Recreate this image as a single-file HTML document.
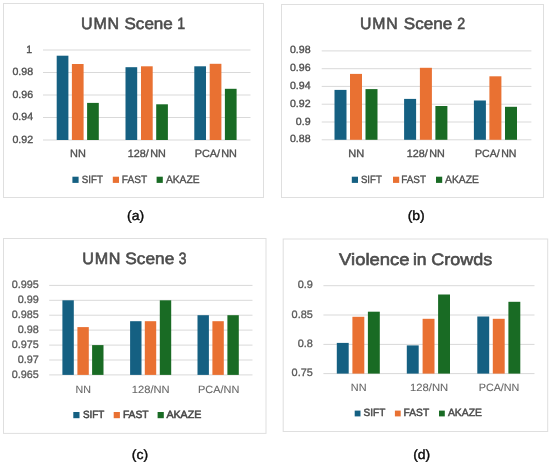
<!DOCTYPE html>
<html><head><meta charset="utf-8"><title>Charts</title>
<style>
html,body{margin:0;padding:0;background:#fff;}
svg{display:block;font-family:"Liberation Sans",sans-serif;text-rendering:geometricPrecision;}
</style></head>
<body>
<svg width="550" height="464" viewBox="0 0 550 464">
<rect width="550" height="464" fill="#fff"/>
<rect x="3.50" y="3.50" width="260.00" height="194.00" fill="#fff" stroke="#DFDFDF" stroke-width="1"/>
<rect x="43.00" y="49.50" width="207.50" height="1.00" fill="#D9D9D9"/>
<rect x="43.00" y="72.00" width="207.50" height="1.00" fill="#D9D9D9"/>
<rect x="43.00" y="94.50" width="207.50" height="1.00" fill="#D9D9D9"/>
<rect x="43.00" y="117.00" width="207.50" height="1.00" fill="#D9D9D9"/>
<rect x="43.00" y="139.50" width="207.50" height="1.00" fill="#D9D9D9"/>
<rect x="56.70" y="55.70" width="11.70" height="84.30" fill="#156082"/>
<rect x="71.90" y="64.00" width="11.70" height="76.00" fill="#E97132"/>
<rect x="87.10" y="102.90" width="11.70" height="37.10" fill="#196B24"/>
<rect x="125.50" y="67.20" width="11.70" height="72.80" fill="#156082"/>
<rect x="141.00" y="66.30" width="11.70" height="73.70" fill="#E97132"/>
<rect x="156.20" y="104.30" width="11.70" height="35.70" fill="#196B24"/>
<rect x="194.30" y="66.30" width="11.70" height="73.70" fill="#156082"/>
<rect x="209.70" y="63.80" width="11.70" height="76.20" fill="#E97132"/>
<rect x="224.90" y="88.80" width="11.70" height="51.20" fill="#196B24"/>
<rect x="72.40" y="176.70" width="6.20" height="6.20" fill="#156082"/>
<rect x="112.80" y="176.70" width="6.20" height="6.20" fill="#E97132"/>
<rect x="156.60" y="176.70" width="6.20" height="6.20" fill="#196B24"/>
<rect x="281.50" y="4.50" width="262.00" height="193.00" fill="#fff" stroke="#DFDFDF" stroke-width="1"/>
<rect x="321.70" y="50.40" width="209.70" height="1.00" fill="#D9D9D9"/>
<rect x="321.70" y="68.20" width="209.70" height="1.00" fill="#D9D9D9"/>
<rect x="321.70" y="85.90" width="209.70" height="1.00" fill="#D9D9D9"/>
<rect x="321.70" y="103.70" width="209.70" height="1.00" fill="#D9D9D9"/>
<rect x="321.70" y="121.50" width="209.70" height="1.00" fill="#D9D9D9"/>
<rect x="321.70" y="139.30" width="209.70" height="1.00" fill="#D9D9D9"/>
<rect x="334.50" y="89.90" width="12.00" height="49.90" fill="#156082"/>
<rect x="350.00" y="73.90" width="12.00" height="65.90" fill="#E97132"/>
<rect x="365.50" y="89.10" width="12.00" height="50.70" fill="#196B24"/>
<rect x="404.10" y="98.90" width="12.00" height="40.90" fill="#156082"/>
<rect x="419.90" y="67.80" width="12.00" height="72.00" fill="#E97132"/>
<rect x="435.40" y="106.00" width="12.00" height="33.80" fill="#196B24"/>
<rect x="473.90" y="100.50" width="12.00" height="39.30" fill="#156082"/>
<rect x="489.40" y="76.30" width="12.00" height="63.50" fill="#E97132"/>
<rect x="505.00" y="106.80" width="12.00" height="33.00" fill="#196B24"/>
<rect x="351.80" y="176.70" width="6.20" height="6.20" fill="#156082"/>
<rect x="393.00" y="176.70" width="6.20" height="6.20" fill="#E97132"/>
<rect x="436.00" y="176.70" width="6.20" height="6.20" fill="#196B24"/>
<rect x="3.50" y="238.50" width="262.50" height="194.90" fill="#fff" stroke="#DFDFDF" stroke-width="1"/>
<rect x="49.20" y="284.90" width="203.30" height="1.00" fill="#D9D9D9"/>
<rect x="49.20" y="299.80" width="203.30" height="1.00" fill="#D9D9D9"/>
<rect x="49.20" y="314.70" width="203.30" height="1.00" fill="#D9D9D9"/>
<rect x="49.20" y="329.60" width="203.30" height="1.00" fill="#D9D9D9"/>
<rect x="49.20" y="344.60" width="203.30" height="1.00" fill="#D9D9D9"/>
<rect x="49.20" y="359.50" width="203.30" height="1.00" fill="#D9D9D9"/>
<rect x="49.20" y="374.40" width="203.30" height="1.00" fill="#D9D9D9"/>
<rect x="62.40" y="300.30" width="11.40" height="74.60" fill="#156082"/>
<rect x="77.40" y="327.10" width="11.40" height="47.80" fill="#E97132"/>
<rect x="92.10" y="345.10" width="11.40" height="29.80" fill="#196B24"/>
<rect x="130.10" y="321.20" width="11.40" height="53.70" fill="#156082"/>
<rect x="144.80" y="321.20" width="11.40" height="53.70" fill="#E97132"/>
<rect x="159.80" y="300.30" width="11.40" height="74.60" fill="#196B24"/>
<rect x="197.50" y="315.20" width="11.40" height="59.70" fill="#156082"/>
<rect x="212.40" y="321.20" width="11.40" height="53.70" fill="#E97132"/>
<rect x="227.40" y="315.20" width="11.40" height="59.70" fill="#196B24"/>
<rect x="73.30" y="412.00" width="6.20" height="6.20" fill="#156082"/>
<rect x="113.70" y="412.00" width="6.20" height="6.20" fill="#E97132"/>
<rect x="157.60" y="412.00" width="6.20" height="6.20" fill="#196B24"/>
<rect x="283.20" y="239.00" width="264.50" height="192.50" fill="#fff" stroke="#DFDFDF" stroke-width="1"/>
<rect x="323.40" y="285.20" width="211.10" height="1.00" fill="#D9D9D9"/>
<rect x="323.40" y="314.50" width="211.10" height="1.00" fill="#D9D9D9"/>
<rect x="323.40" y="343.90" width="211.10" height="1.00" fill="#D9D9D9"/>
<rect x="323.40" y="373.10" width="211.10" height="1.00" fill="#D9D9D9"/>
<rect x="336.80" y="342.90" width="11.90" height="30.70" fill="#156082"/>
<rect x="352.40" y="316.80" width="11.90" height="56.80" fill="#E97132"/>
<rect x="367.90" y="311.70" width="11.90" height="61.90" fill="#196B24"/>
<rect x="406.80" y="345.40" width="11.90" height="28.20" fill="#156082"/>
<rect x="422.60" y="318.80" width="11.90" height="54.80" fill="#E97132"/>
<rect x="438.10" y="294.50" width="11.90" height="79.10" fill="#196B24"/>
<rect x="477.30" y="316.50" width="11.90" height="57.10" fill="#156082"/>
<rect x="492.80" y="318.80" width="11.90" height="54.80" fill="#E97132"/>
<rect x="508.40" y="301.80" width="11.90" height="71.80" fill="#196B24"/>
<rect x="354.70" y="410.60" width="5.80" height="5.80" fill="#156082"/>
<rect x="394.90" y="410.60" width="5.80" height="5.80" fill="#E97132"/>
<rect x="439.00" y="410.60" width="5.80" height="5.80" fill="#196B24"/>
<text transform="translate(81.11 29.10) scale(0.9871 1)" font-size="16.2" letter-spacing="0.8" fill="#4c4c4c" stroke="#4c4c4c" stroke-width="0.6">UMN</text>
<text transform="translate(124.50 29.10) scale(1.0524 1)" font-size="16.2" fill="#4c4c4c" stroke="#4c4c4c" stroke-width="0.6">Scene</text>
<text transform="translate(177.32 29.10) scale(0.8750 1)" font-size="16.2" fill="#4c4c4c" stroke="#4c4c4c" stroke-width="0.6">1</text>
<text transform="translate(26.30 52.90) scale(1.0000 1)" font-size="10.5" fill="#4f4f4f" stroke="#4f4f4f" stroke-width="0.35">1</text>
<text transform="translate(12.40 75.40) scale(1.0100 1)" font-size="10.5" fill="#4f4f4f" stroke="#4f4f4f" stroke-width="0.35">0.98</text>
<text transform="translate(12.40 97.90) scale(1.0100 1)" font-size="10.5" fill="#4f4f4f" stroke="#4f4f4f" stroke-width="0.35">0.96</text>
<text transform="translate(12.40 120.40) scale(1.0100 1)" font-size="10.5" fill="#4f4f4f" stroke="#4f4f4f" stroke-width="0.35">0.94</text>
<text transform="translate(12.40 142.90) scale(1.0100 1)" font-size="10.5" fill="#4f4f4f" stroke="#4f4f4f" stroke-width="0.35">0.92</text>
<text transform="translate(70.00 156.90) scale(1.0423 1)" font-size="10.5" fill="#4f4f4f" stroke="#4f4f4f" stroke-width="0.35">NN</text>
<text transform="translate(127.70 156.90) scale(1.0269 1)" font-size="10.5" fill="#4f4f4f" stroke="#4f4f4f" stroke-width="0.35">128/<tspan dx="1.5">NN</tspan></text>
<text transform="translate(194.80 156.90) scale(1.0327 1)" font-size="10.5" fill="#4f4f4f" stroke="#4f4f4f" stroke-width="0.35">PCA/<tspan dx="1.0">NN</tspan></text>
<text transform="translate(81.70 182.60) scale(0.9300 1)" font-size="10.5" fill="#4f4f4f" stroke="#4f4f4f" stroke-width="0.35">SIFT</text>
<text transform="translate(121.80 182.60) scale(0.9649 1)" font-size="10.5" fill="#4f4f4f" stroke="#4f4f4f" stroke-width="0.35">FAST</text>
<text transform="translate(165.90 182.60) scale(0.9790 1)" font-size="10.5" fill="#4f4f4f" stroke="#4f4f4f" stroke-width="0.35">AKAZE</text>
<text transform="translate(127.08 220.00) scale(1.0500 1)" font-size="13.33" fill="#0a0a0a" stroke="#0a0a0a" stroke-width="0.4">(a)</text>
<text transform="translate(360.02 29.30) scale(0.9762 1)" font-size="16.2" letter-spacing="0.8" fill="#4c4c4c" stroke="#4c4c4c" stroke-width="0.6">UMN</text>
<text transform="translate(403.80 29.30) scale(1.0546 1)" font-size="16.2" fill="#4c4c4c" stroke="#4c4c4c" stroke-width="0.6">Scene</text>
<text transform="translate(457.30 29.30) scale(0.8778 1)" font-size="16.2" fill="#4c4c4c" stroke="#4c4c4c" stroke-width="0.6">2</text>
<text transform="translate(289.90 53.40) scale(1.0100 1)" font-size="10.5" fill="#4f4f4f" stroke="#4f4f4f" stroke-width="0.35">0.98</text>
<text transform="translate(289.90 71.20) scale(1.0100 1)" font-size="10.5" fill="#4f4f4f" stroke="#4f4f4f" stroke-width="0.35">0.96</text>
<text transform="translate(289.90 88.90) scale(1.0100 1)" font-size="10.5" fill="#4f4f4f" stroke="#4f4f4f" stroke-width="0.35">0.94</text>
<text transform="translate(289.90 106.70) scale(1.0100 1)" font-size="10.5" fill="#4f4f4f" stroke="#4f4f4f" stroke-width="0.35">0.92</text>
<text transform="translate(295.80 124.50) scale(1.0100 1)" font-size="10.5" fill="#4f4f4f" stroke="#4f4f4f" stroke-width="0.35">0.9</text>
<text transform="translate(289.90 142.30) scale(1.0100 1)" font-size="10.5" fill="#4f4f4f" stroke="#4f4f4f" stroke-width="0.35">0.88</text>
<text transform="translate(348.20 157.00) scale(1.0492 1)" font-size="10.5" fill="#4f4f4f" stroke="#4f4f4f" stroke-width="0.35">NN</text>
<text transform="translate(406.80 157.00) scale(1.0241 1)" font-size="10.5" fill="#4f4f4f" stroke="#4f4f4f" stroke-width="0.35">128/<tspan dx="1.5">NN</tspan></text>
<text transform="translate(475.00 157.00) scale(1.0052 1)" font-size="10.5" fill="#4f4f4f" stroke="#4f4f4f" stroke-width="0.35">PCA/<tspan dx="1.6">NN</tspan></text>
<text transform="translate(360.90 182.60) scale(0.9171 1)" font-size="10.5" fill="#4f4f4f" stroke="#4f4f4f" stroke-width="0.35">SIFT</text>
<text transform="translate(401.20 182.60) scale(0.9426 1)" font-size="10.5" fill="#4f4f4f" stroke="#4f4f4f" stroke-width="0.35">FAST</text>
<text transform="translate(445.00 182.60) scale(0.9819 1)" font-size="10.5" fill="#4f4f4f" stroke="#4f4f4f" stroke-width="0.35">AKAZE</text>
<text transform="translate(407.68 219.90) scale(1.0500 1)" font-size="13.33" fill="#0a0a0a" stroke="#0a0a0a" stroke-width="0.4">(b)</text>
<text transform="translate(82.32 263.60) scale(0.9840 1)" font-size="16.4" letter-spacing="0.7" fill="#4c4c4c" stroke="#4c4c4c" stroke-width="0.6">UMN</text>
<text transform="translate(125.30 263.60) scale(1.0527 1)" font-size="16.4" fill="#4c4c4c" stroke="#4c4c4c" stroke-width="0.6">Scene</text>
<text transform="translate(178.80 263.60) scale(0.8444 1)" font-size="16.4" fill="#4c4c4c" stroke="#4c4c4c" stroke-width="0.6">3</text>
<text transform="translate(11.69 288.40) scale(1.0000 1)" font-size="10.8" fill="#595959" stroke="#595959" stroke-width="0.3">0.995</text>
<text transform="translate(17.69 303.30) scale(1.0000 1)" font-size="10.8" fill="#595959" stroke="#595959" stroke-width="0.3">0.99</text>
<text transform="translate(11.69 318.20) scale(1.0000 1)" font-size="10.8" fill="#595959" stroke="#595959" stroke-width="0.3">0.985</text>
<text transform="translate(17.69 333.10) scale(1.0000 1)" font-size="10.8" fill="#595959" stroke="#595959" stroke-width="0.3">0.98</text>
<text transform="translate(11.69 348.10) scale(1.0000 1)" font-size="10.8" fill="#595959" stroke="#595959" stroke-width="0.3">0.975</text>
<text transform="translate(17.69 363.00) scale(1.0000 1)" font-size="10.8" fill="#595959" stroke="#595959" stroke-width="0.3">0.97</text>
<text transform="translate(11.69 377.90) scale(1.0000 1)" font-size="10.8" fill="#595959" stroke="#595959" stroke-width="0.3">0.965</text>
<text transform="translate(75.60 392.70) scale(1.0149 1)" font-size="10.5" fill="#686868" stroke="#686868" stroke-width="0.1">NN</text>
<text transform="translate(131.80 392.70) scale(1.0623 1)" font-size="10.5" fill="#686868" stroke="#686868" stroke-width="0.1">128/NN</text>
<text transform="translate(198.00 392.70) scale(1.0412 1)" font-size="10.5" fill="#686868" stroke="#686868" stroke-width="0.1">PCA/NN</text>
<text transform="translate(83.00 417.50) scale(0.9385 1)" font-size="10.5" fill="#484848" stroke="#484848" stroke-width="0.55">SIFT</text>
<text transform="translate(122.90 417.50) scale(0.9798 1)" font-size="10.5" fill="#484848" stroke="#484848" stroke-width="0.55">FAST</text>
<text transform="translate(166.40 417.50) scale(1.0138 1)" font-size="10.5" fill="#484848" stroke="#484848" stroke-width="0.55">AKAZE</text>
<text transform="translate(131.87 459.20) scale(1.0500 1)" font-size="13.33" fill="#0a0a0a" stroke="#0a0a0a" stroke-width="0.4">(c)</text>
<text transform="translate(339.10 264.50) scale(1.1121 1)" font-size="16.6" fill="#4c4c4c" stroke="#4c4c4c" stroke-width="0.6">Violence</text>
<text transform="translate(412.95 264.50) scale(1.0525 1)" font-size="16.6" fill="#4c4c4c" stroke="#4c4c4c" stroke-width="0.6">in</text>
<text transform="translate(431.20 264.50) scale(1.0831 1)" font-size="16.6" fill="#4c4c4c" stroke="#4c4c4c" stroke-width="0.6">Crowds</text>
<text transform="translate(297.65 288.30) scale(1.0100 1)" font-size="10.8" fill="#595959" stroke="#595959" stroke-width="0.3">0.9</text>
<text transform="translate(291.58 317.60) scale(1.0100 1)" font-size="10.8" fill="#595959" stroke="#595959" stroke-width="0.3">0.85</text>
<text transform="translate(297.65 347.00) scale(1.0100 1)" font-size="10.8" fill="#595959" stroke="#595959" stroke-width="0.3">0.8</text>
<text transform="translate(291.58 376.20) scale(1.0100 1)" font-size="10.8" fill="#595959" stroke="#595959" stroke-width="0.3">0.75</text>
<text transform="translate(350.80 391.00) scale(1.0355 1)" font-size="10.5" fill="#686868" stroke="#686868" stroke-width="0.1">NN</text>
<text transform="translate(410.00 391.00) scale(1.0709 1)" font-size="10.5" fill="#686868" stroke="#686868" stroke-width="0.1">128/NN</text>
<text transform="translate(478.70 391.00) scale(1.0258 1)" font-size="10.5" fill="#686868" stroke="#686868" stroke-width="0.1">PCA/NN</text>
<text transform="translate(363.60 415.50) scale(0.9557 1)" font-size="10.5" fill="#4c4c4c" stroke="#4c4c4c" stroke-width="0.5">SIFT</text>
<text transform="translate(403.60 415.50) scale(0.9724 1)" font-size="10.5" fill="#4c4c4c" stroke="#4c4c4c" stroke-width="0.5">FAST</text>
<text transform="translate(447.90 415.50) scale(0.9877 1)" font-size="10.5" fill="#4c4c4c" stroke="#4c4c4c" stroke-width="0.5">AKAZE</text>
<text transform="translate(413.18 459.20) scale(1.0500 1)" font-size="13.33" fill="#0a0a0a" stroke="#0a0a0a" stroke-width="0.4">(d)</text>
</svg>
</body></html>
